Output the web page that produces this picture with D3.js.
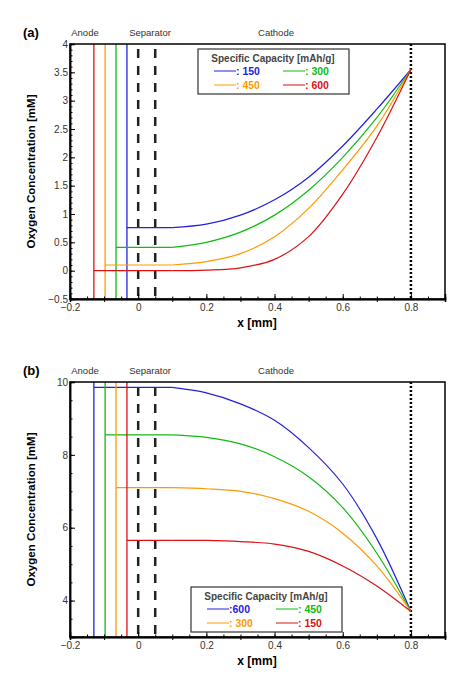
<!DOCTYPE html>
<html><head><meta charset="utf-8">
<script src="https://cdn.jsdelivr.net/npm/d3@7"></script>
<style>body{margin:0;background:#fff}text{font-family:Arial,"Liberation Sans",sans-serif}</style>
</head><body><svg id="c" width="474" height="689"></svg>
<script>
var xs = [0.1, 0.2, 0.3, 0.4, 0.5, 0.6, 0.7, 0.8];
var colors = {blue: "#2222dd", green: "#11bb11", orange: "#ff9900", red: "#dd1111"};

// panel (a)
var aNames = ["150", "300", "450", "600"];
var aColors = ["blue", "green", "orange", "red"];
var aAnode = [-0.033, -0.065, -0.097, -0.13];
var aBlue = [0.76, 0.82, 0.98, 1.25, 1.65, 2.2, 2.85, 3.55];
var aGreen = [0.41, 0.5, 0.68, 0.98, 1.42, 2.0, 2.7, 3.55];
var aOrange = [0.1, 0.16, 0.3, 0.6, 1.1, 1.78, 2.55, 3.55];
var aRed = [0.0, 0.01, 0.05, 0.2, 0.6, 1.35, 2.35, 3.55];
var aYTicks = [-0.5, 0, 0.5, 1, 1.5, 2, 2.5, 3, 3.5, 4];

// panel (b)
var bNames = ["600", "450", "300", "150"];
var bColors = ["blue", "green", "orange", "red"];
var bAnode = [-0.13, -0.097, -0.065, -0.033];
var bBlue = [9.85, 9.7, 9.4, 8.95, 8.2, 7.2, 5.7, 3.7];
var bGreen = [8.55, 8.48, 8.3, 7.95, 7.4, 6.55, 5.3, 3.7];
var bOrange = [7.1, 7.07, 7.0, 6.8, 6.45, 5.85, 4.95, 3.7];
var bRed = [5.65, 5.65, 5.62, 5.55, 5.35, 4.95, 4.4, 3.7];
var bYTicks = [4, 6, 8, 10];

var xTicks = [-0.2, 0, 0.2, 0.4, 0.6, 0.8];

var svg = d3.select("#c");

function panel(o) {
  var g = svg.append("g");
  var x = d3.scaleLinear().domain([-0.2, 0.9]).range([70, 445]);
  var y = d3.scaleLinear().domain(o.yd).range([o.bot, o.top]);
  var clip = "clip" + o.label;
  g.append("clipPath").attr("id", clip).append("rect")
    .attr("x", 70).attr("y", o.top).attr("width", 375).attr("height", o.bot - o.top);
  var pg = g.append("g").attr("clip-path", "url(#" + clip + ")");

  // separator dashes and cathode boundary
  [0, 0.05].forEach(function(v) {
    pg.append("line").attr("x1", x(v)).attr("x2", x(v)).attr("y1", o.top + 5).attr("y2", o.bot)
      .attr("stroke", "#222").attr("stroke-width", 2.5).attr("stroke-dasharray", "9,8");
  });
  pg.append("line").attr("x1", x(0.8)).attr("x2", x(0.8)).attr("y1", o.top).attr("y2", o.bot)
    .attr("stroke", "#000").attr("stroke-width", 2.5).attr("stroke-dasharray", "2,2");

  var line = d3.line().curve(d3.curveCatmullRom).x(function(d) { return x(d[0]); }).y(function(d) { return y(d[1]); });
  o.series.forEach(function(s, i) {
    var c = colors[o.cols[i]];
    pg.append("line").attr("x1", x(o.anode[i])).attr("x2", x(o.anode[i]))
      .attr("y1", o.top).attr("y2", o.bot).attr("stroke", c).attr("stroke-width", 1.3);
    pg.append("line").attr("x1", x(o.anode[i])).attr("x2", x(xs[0]))
      .attr("y1", y(s[0])).attr("y2", y(s[0])).attr("stroke", c).attr("stroke-width", 1.2);
    var pts = xs.map(function(v, j) { return [v, s[j]]; });
    pg.append("path").attr("d", line(pts)).attr("fill", "none").attr("stroke", c).attr("stroke-width", 1.2);
  });

  // axes
  g.append("g").attr("transform", "translate(0," + o.bot + ")")
    .call(d3.axisBottom(x).tickValues(xTicks).tickSize(-5).tickPadding(5).tickFormat(d3.format("")));
  g.append("g").attr("transform", "translate(0," + o.bot + ")")
    .call(d3.axisBottom(x).tickValues(d3.range(-0.2, 0.91, 0.05)).tickSize(-2.5).tickFormat(""));
  g.append("g").attr("transform", "translate(0," + o.bot + ")")
    .call(d3.axisBottom(x).tickValues(d3.range(-0.1, 0.91, 0.2)).tickSize(3).tickFormat(""));
  g.append("g").attr("transform", "translate(70,0)")
    .call(d3.axisLeft(y).tickValues(o.yt).tickSize(-5).tickPadding(2).tickFormat(d3.format("")));
  g.append("g").attr("transform", "translate(70,0)")
    .call(d3.axisLeft(y).tickValues(d3.range(o.yd[0], o.yd[1] + 0.001, o.minor)).tickSize(-2.5).tickFormat(""));
  g.selectAll(".domain").attr("stroke", "#000").attr("stroke-width", 1.5);
  g.selectAll(".tick text").attr("font-size", 10).attr("fill", "#333");
  g.append("rect").attr("x", 70).attr("y", o.top).attr("width", 375).attr("height", o.bot - o.top)
    .attr("fill", "none").attr("stroke", "#000").attr("stroke-width", 1.5);

  g.append("text").attr("x", 257).attr("y", o.bot + 28).attr("text-anchor", "middle")
    .attr("font-size", 12).attr("font-weight", "bold").text("x [mm]");
  g.append("text").attr("transform", "translate(35," + ((o.top + o.bot) / 2) + ") rotate(-90)")
    .attr("text-anchor", "middle").attr("font-size", 11.5).attr("font-weight", "bold").text("Oxygen Concentration [mM]");
  g.append("text").attr("x", 23).attr("y", o.top - 7).attr("font-size", 13).attr("font-weight", "bold").text("(" + o.label + ")");
  [["Anode", 85], ["Separator", 150], ["Cathode", 276]].forEach(function(t) {
    g.append("text").attr("x", t[1]).attr("y", o.top - 8).attr("text-anchor", "middle")
      .attr("font-size", 9.5).attr("fill", "#333").text(t[0]);
  });

  // legend
  var lg = g.append("g").attr("transform", "translate(" + o.lx + "," + o.ly + ")");
  lg.append("rect").attr("width", 151).attr("height", 45).attr("fill", "#fff").attr("stroke", "#333").attr("stroke-width", 1.2);
  lg.append("text").attr("x", 75).attr("y", 13).attr("text-anchor", "middle").attr("font-size", 10)
    .attr("font-weight", "bold").attr("fill", "#444").text("Specific Capacity  [mAh/g]");
  o.names.forEach(function(n, i) {
    var cx = 16 + (i % 2) * 69, cy = 22 + Math.floor(i / 2) * 14;
    var c = colors[o.cols[i]];
    lg.append("line").attr("x1", cx).attr("x2", cx + 22).attr("y1", cy).attr("y2", cy).attr("stroke", c);
    lg.append("text").attr("x", cx + 22).attr("y", cy + 4).attr("font-size", 10.5).attr("font-weight", "bold")
      .attr("fill", c).text(":" + (o.label == "b" && i == 0 ? "" : " ") + n);
  });
}

panel({label: "a", top: 44, bot: 299, yd: [-0.5, 4], yt: aYTicks, minor: 0.1,
  series: [aBlue, aGreen, aOrange, aRed], cols: aColors, anode: aAnode, names: aNames, lx: 198, ly: 49});
panel({label: "b", top: 382, bot: 637, yd: [3, 10], yt: bYTicks, minor: 0.5,
  series: [bBlue, bGreen, bOrange, bRed], cols: bColors, anode: bAnode, names: bNames, lx: 191, ly: 587});
</script></body></html>
